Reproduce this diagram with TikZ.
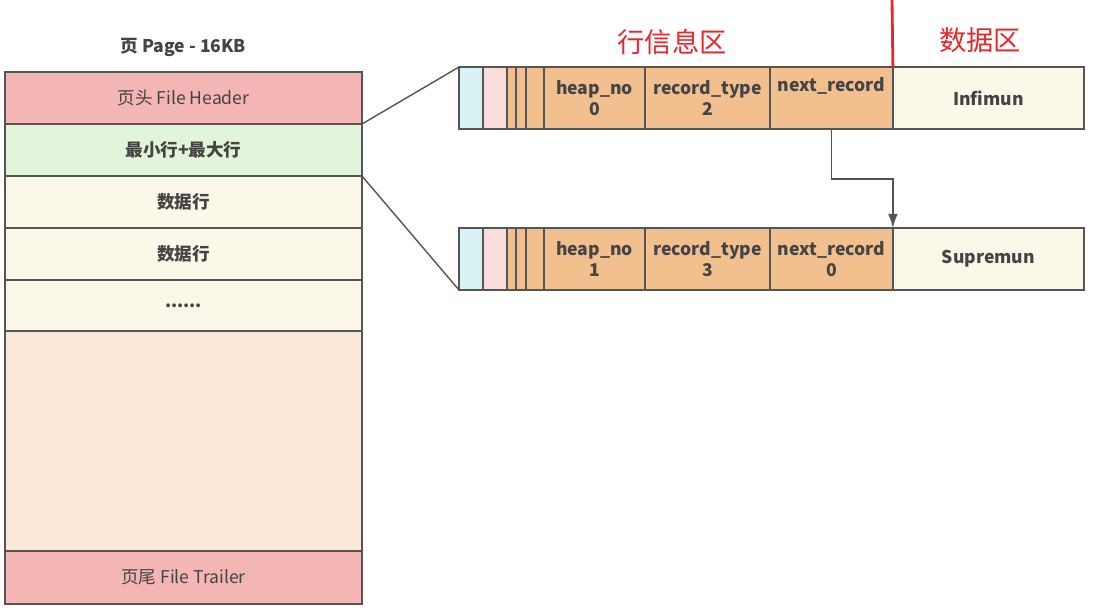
\documentclass[tikz,border=0pt]{standalone}
\usepackage{fontspec}
\setmainfont{Noto Sans CJK SC}
\usetikzlibrary{positioning,arrows.meta}
\definecolor{linec}{HTML}{555555}
\definecolor{txtc}{HTML}{444444}
\definecolor{hdrc}{HTML}{F4B6B5}
\definecolor{minc}{HTML}{E2F4DA}
\definecolor{rowc}{HTML}{FBF8EA}
\definecolor{freec}{HTML}{FBE8D8}
\definecolor{cyanc}{HTML}{D9F3F5}
\definecolor{pinkc}{HTML}{F9DCDC}
\definecolor{orgc}{HTML}{F2C08F}
\definecolor{redc}{HTML}{E8262B}
\begin{document}
\begin{tikzpicture}[
    x=0.02cm, y=-0.02cm,
    font=\fontsize{10}{11.5}\selectfont, text=txtc,
    row/.style={draw=linec, line width=0.8pt, inner sep=0pt, outer sep=0pt, minimum width=7.14cm, minimum height=1.04cm, font=\fontsize{10}{11.5}\selectfont\bfseries},
    cell/.style={draw=linec, line width=0.8pt, inner sep=0pt, outer sep=0pt, minimum height=1.24cm, align=center, fill=orgc, font=\fontsize{10}{11.5}\selectfont\bfseries},
    arr/.style={-{Latex[length=8pt,width=5.5pt]}, draw=linec, line width=0.8pt},
    zoomline/.style={draw=linec, line width=0.8pt},
    area/.style={text=redc, font=\fontsize{15.5}{18}\selectfont},
  ]
  \useasboundingbox (0,0) rectangle (1096,613);
  % 左: 页的结构
  \node[font=\fontsize{10}{11.5}\selectfont\bfseries] (title) at (183.5,47) {页 Page - 16KB};
  \node[row, fill=hdrc, font=\fontsize{10}{11.5}\selectfont] (hdr) at (183.5,98) {页头 File Header};
  \node[row, fill=minc] (mm)    at (183.5,150) {最小行+最大行};
  \node[row, fill=rowc] (data1) at (183.5,202) {数据行};
  \node[row, fill=rowc] (data2) at (183.5,254) {数据行};
  \node[row, fill=rowc, minimum height=1.02cm] (dots) at (183.5,305.5) {......};
  \node[row, fill=freec, minimum height=4.4cm] (free) at (183.5,441) {};
  \node[row, fill=hdrc, minimum height=1.06cm, font=\fontsize{10}{11.5}\selectfont] (trl) at (183.5,577.5) {页尾 File Trailer};
  % 右上: Infimun 记录
  \node[cell, fill=cyanc, minimum width=0.48cm, anchor=west] (T-a) at (459,98) {};
  \node[cell, fill=pinkc, minimum width=0.48cm, right=0pt of T-a] (T-b) {};
  \node[cell, minimum width=0.18cm, right=0pt of T-b] (T-c) {};
  \node[cell, minimum width=0.2cm, right=0pt of T-c] (T-d) {};
  \node[cell, minimum width=0.36cm, right=0pt of T-d] (T-e) {};
  \node[cell, minimum width=2.02cm, right=0pt of T-e] (T-heap) {heap\_no\\0};
  \node[cell, minimum width=2.5cm, right=0pt of T-heap] (T-type) {record\_type\\2};
  \node[cell, minimum width=2.46cm, right=0pt of T-type] (T-next) {next\_record\\\strut};
  \node[cell, fill=rowc, minimum width=3.82cm, right=0pt of T-next] (T-data) {Infimun};
  % 右下: Supremun 记录
  \node[cell, fill=cyanc, minimum width=0.48cm, anchor=west] (B-a) at (459,259) {};
  \node[cell, fill=pinkc, minimum width=0.48cm, right=0pt of B-a] (B-b) {};
  \node[cell, minimum width=0.18cm, right=0pt of B-b] (B-c) {};
  \node[cell, minimum width=0.2cm, right=0pt of B-c] (B-d) {};
  \node[cell, minimum width=0.36cm, right=0pt of B-d] (B-e) {};
  \node[cell, minimum width=2.02cm, right=0pt of B-e] (B-heap) {heap\_no\\1};
  \node[cell, minimum width=2.5cm, right=0pt of B-heap] (B-type) {record\_type\\3};
  \node[cell, minimum width=2.46cm, right=0pt of B-type] (B-next) {next\_record\\0};
  \node[cell, fill=rowc, minimum width=3.82cm, right=0pt of B-next] (B-data) {Supremun};
  % 区域标记
  \node[area] (info) at (672,42) {行信息区};
  \node[area] (dataarea) at (980,40) {数据区};
  \coordinate (sep-top) at (892,0);
  \draw[redc, line width=1.6pt] (T-next.north east) -- (sep-top);
  % 连线
  \draw[zoomline] (mm.north east) -- (T-a.north west);
  \draw[zoomline] (mm.south east) -- (B-a.south west);
  \draw[arr] (T-next.south) -- ++(0,50) -| (B-data.north west);
\end{tikzpicture}
\end{document}
